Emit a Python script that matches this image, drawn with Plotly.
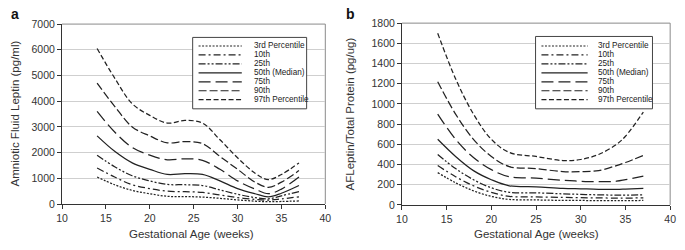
import plotly.graph_objects as go

# ---------------- data ----------------
series_names = ["3rd Percentile", "10th", "25th", "50th (Median)", "75th", "90th", "97th Percentile"]

weeks_a = [14, 16, 18, 20, 22, 24, 26, 28, 30, 32, 33.5, 35, 37]
p3_a   = [1050, 750, 530, 400, 300, 290, 270, 220, 160, 110, 90, 100, 120]
p10_a  = [1400, 1050, 750, 600, 500, 480, 450, 350, 250, 180, 150, 200, 280]
p25_a  = [1900, 1450, 1100, 900, 760, 750, 720, 550, 380, 250, 200, 320, 480]
p50_a  = [2650, 2050, 1600, 1350, 1150, 1180, 1150, 900, 600, 400, 280, 420, 720]
p75_a  = [3600, 2800, 2200, 1900, 1720, 1760, 1700, 1350, 900, 580, 400, 580, 1050]
p90_a  = [4700, 3800, 3000, 2650, 2380, 2430, 2350, 1850, 1350, 850, 650, 850, 1300]
p97_a  = [6050, 4900, 3900, 3450, 3150, 3250, 3150, 2500, 1800, 1200, 950, 1150, 1600]

weeks_b = [14, 16, 18, 20, 22, 25, 28, 30, 32, 34, 35, 37]
p3_b   = [320, 220, 140, 85, 55, 50, 45, 45, 42, 42, 42, 45]
p10_b  = [390, 280, 190, 125, 85, 80, 75, 72, 70, 68, 68, 70]
p25_b  = [500, 360, 250, 170, 125, 120, 110, 105, 100, 98, 98, 100]
p50_b  = [650, 480, 340, 250, 190, 180, 165, 160, 155, 155, 158, 165]
p75_b  = [900, 650, 470, 350, 280, 265, 245, 235, 230, 235, 250, 285]
p90_b  = [1220, 900, 650, 480, 380, 360, 330, 330, 340, 390, 420, 490]
p97_b  = [1700, 1250, 900, 650, 520, 480, 440, 450, 500, 600, 680, 920]

x_ticks = [10, 15, 20, 25, 30, 35, 40]
y_ticks_a = [0, 1000, 2000, 3000, 4000, 5000, 6000, 7000]
y_ticks_b = [0, 200, 400, 600, 800, 1000, 1200, 1400, 1600, 1800]

# ---------------- style ----------------
dashes = ["2px,1.5px", "7px,3px,2px,3px", "7px,2px,2px,2px,2px,2px", "solid",
          "12px,5px", "8px,3px", "5px,2.5px"]
LINE = "#222222"
FONT = "Liberation Sans, Arial, sans-serif"
W, H = 685, 250

fig = go.Figure()

sets = [(weeks_a, [p3_a, p10_a, p25_a, p50_a, p75_a, p90_a, p97_a], "x", "y"),
        (weeks_b, [p3_b, p10_b, p25_b, p50_b, p75_b, p90_b, p97_b], "x2", "y2")]
for wk, vals, xa, ya in sets:
    for name, v, d in zip(series_names, vals, dashes):
        fig.add_trace(go.Scatter(x=wk, y=v, mode="lines", name=name, showlegend=False,
                                 line=dict(color=LINE, width=1.25, dash=d, shape="spline", smoothing=1.0),
                                 xaxis=xa, yaxis=ya))

def px(x):
    return x / W

def py(y):
    return 1 - y / H

axis_common = dict(showline=True, linecolor="#333333", linewidth=1, mirror=False,
                   ticks="outside", ticklen=4, tickcolor="#333333", tickwidth=1,
                   tickfont=dict(family=FONT, size=10.5, color="#333333"),
                   zeroline=False)

fig.update_layout(
    width=W, height=H, margin=dict(l=0, r=0, t=0, b=0),
    paper_bgcolor="white", plot_bgcolor="white",
    font=dict(family=FONT, color="#333333"),
    xaxis=dict(domain=[px(57), px(325)], range=[10, 40], tickvals=x_ticks, showgrid=False,
               anchor="y", **axis_common),
    yaxis=dict(domain=[py(208), py(19)], range=[0, 7000], tickvals=y_ticks_a, showgrid=True,
               gridcolor="#cfcfcf", gridwidth=1, anchor="x", **axis_common),
    xaxis2=dict(domain=[px(403), px(676)], range=[10, 40], tickvals=x_ticks, showgrid=False,
                anchor="y2", **axis_common),
    yaxis2=dict(domain=[py(209), py(18)], range=[0, 1800], tickvals=y_ticks_b, showgrid=True,
                gridcolor="#cfcfcf", gridwidth=1, anchor="x2", **axis_common),
    showlegend=False,
)

ann = []
shapes = []

# grey frame on top/right of each plot area
for xr, yr in [("x domain", "y domain"), ("x2 domain", "y2 domain")]:
    shapes.append(dict(type="line", xref=xr, yref=yr, x0=0, x1=1, y0=1, y1=1,
                       line=dict(color="#8a8a8a", width=1), layer="below"))
    shapes.append(dict(type="line", xref=xr, yref=yr, x0=1, x1=1, y0=0, y1=1,
                       line=dict(color="#8a8a8a", width=1), layer="below"))

# panel labels
ann.append(dict(x=px(3), y=py(8), text="<b>a</b>", showarrow=False, xref="paper", yref="paper",
                xanchor="left", yanchor="middle", font=dict(family=FONT, size=14, color="#111111")))
ann.append(dict(x=px(344), y=py(8), text="<b>b</b>", showarrow=False, xref="paper", yref="paper",
                xanchor="left", yanchor="middle", font=dict(family=FONT, size=14, color="#111111")))

# axis titles
for cx, cy, txt in [(189, 240, "Gestational Age (weeks)"), (540, 240, "Gestational Age (weeks)")]:
    ann.append(dict(x=px(cx), y=py(cy), text=txt, showarrow=False, xref="paper", yref="paper",
                    xanchor="center", yanchor="middle", font=dict(family=FONT, size=11.5, color="#333333")))
for cx, cy, txt in [(9, 113, "Amniotic Fluid Leptin (pg/ml)"), (350, 113, "AFLeptin/Total Protein (pg/ug)")]:
    ann.append(dict(x=px(cx), y=py(cy), text=txt, showarrow=False, xref="paper", yref="paper",
                    textangle=-90, xanchor="center", yanchor="middle",
                    font=dict(family=FONT, size=11.5, color="#333333")))

# legends
legends = [dict(box=(190, 33, 306, 108), lx=(196, 240), tx=250),
           dict(box=(539, 32, 658, 108), lx=(545, 592), tx=601)]
for lg in legends:
    x0, y0, x1, y1 = lg["box"]
    shapes.append(dict(type="rect", xref="paper", yref="paper", x0=px(x0), x1=px(x1), y0=py(y1), y1=py(y0),
                       line=dict(color="#444444", width=1), fillcolor="white", layer="above"))
    for i, (name, d) in enumerate(zip(series_names, dashes)):
        yy = 42 + i * 9.4
        shapes.append(dict(type="line", xref="paper", yref="paper", x0=px(lg["lx"][0]), x1=px(lg["lx"][1]),
                           y0=py(yy), y1=py(yy), line=dict(color=LINE, width=1.2, dash=d), layer="above"))
        ann.append(dict(x=px(lg["tx"]), y=py(yy), text=name, showarrow=False, xref="paper", yref="paper",
                        xanchor="left", yanchor="middle", font=dict(family=FONT, size=8.2, color="#222222")))

fig.update_layout(annotations=ann, shapes=shapes)
fig.write_html("out.html", config={"displayModeBar": False},
               post_script="document.body.style.margin='0';document.body.style.padding='0';")
